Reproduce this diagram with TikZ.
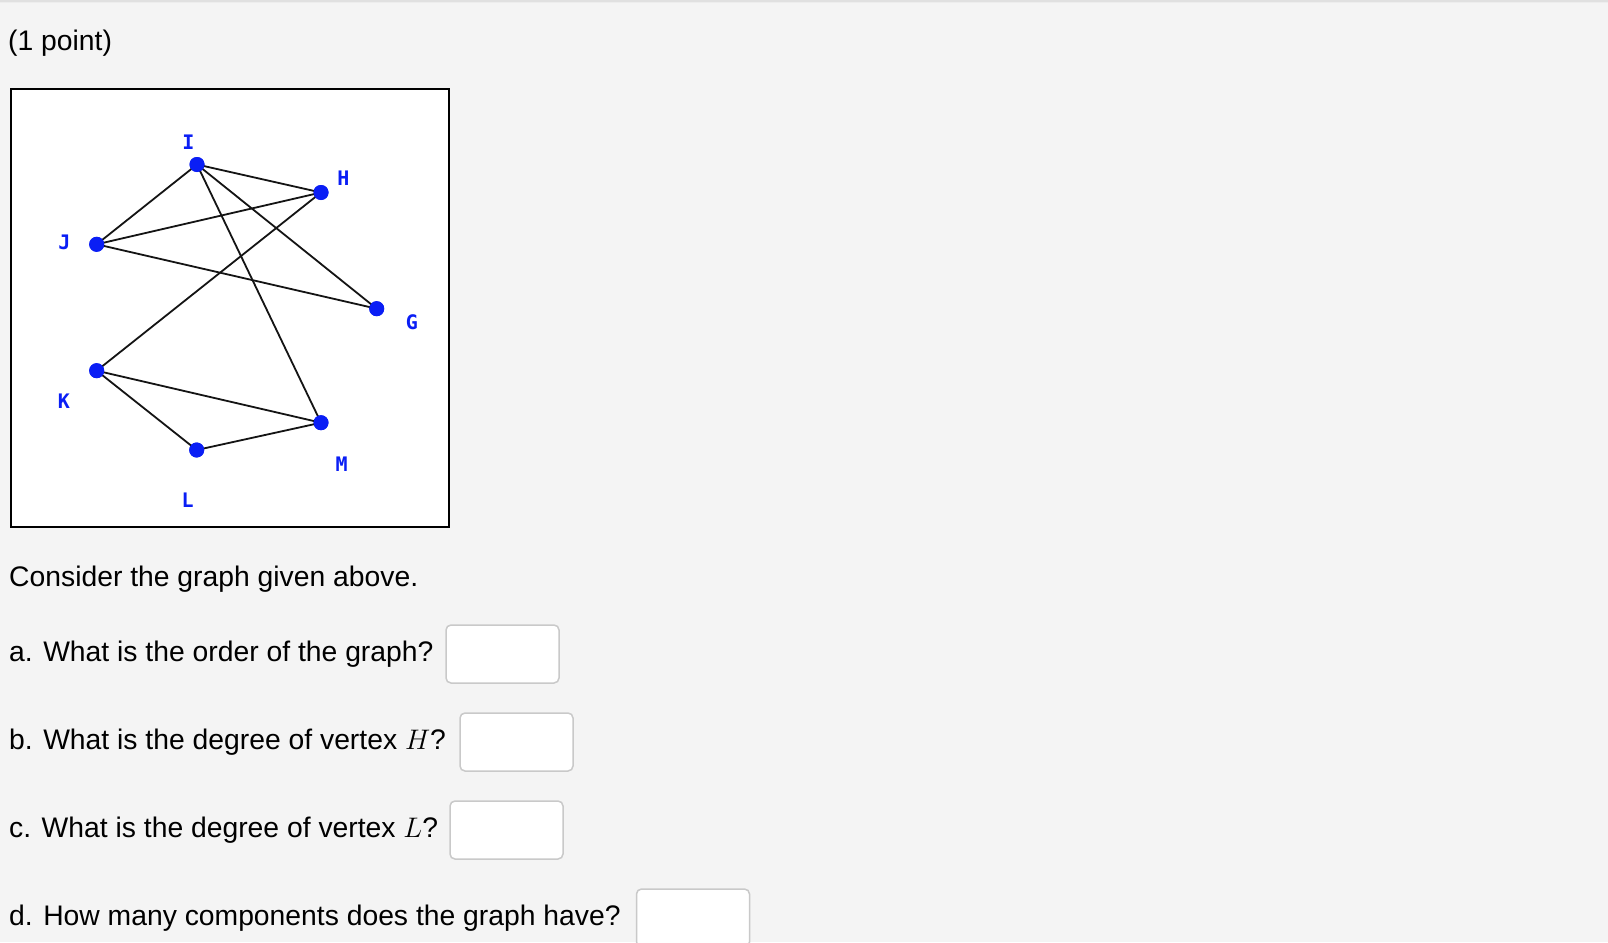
\RequirePackage{fix-cm}
\documentclass[tikz,border=0pt]{standalone}
\usepackage{fontspec}
\setmainfont{Liberation Sans}
\newfontfamily\lblfont{DejaVu Sans Mono}
\definecolor{pagebg}{HTML}{F4F4F4}
\definecolor{vblue}{HTML}{0A1EF5}
\definecolor{edgec}{HTML}{141414}
\definecolor{boxline}{HTML}{C9C9C9}
\tikzset{
  vtx/.style={circle,fill=vblue,inner sep=0pt,minimum size=15pt},
  lbl/.style={text=vblue,inner sep=0pt,font=\lblfont\bfseries\fontsize{20}{20}\selectfont},
  edge/.style={draw=edgec,line width=1.8pt},
  qtext/.style={anchor=base west,inner sep=0pt,font=\fontsize{28.3}{34}\selectfont},
  ansbox/.style={draw=boxline,fill=white,line width=1.5pt,rounded corners=5pt},
}
\begin{document}
\begin{tikzpicture}[x=1pt,y=-1pt]
\useasboundingbox (0,0) rectangle (1608,942);
\clip (0,0) rectangle (1608,942);
\fill[pagebg] (0,0) rectangle (1608,942);
\fill[black!12] (0,0) rectangle (1608,2);
\fill[black!7] (0,2) rectangle (1608,3.5);

% title
\node[qtext] (title) at (8,51) {(1 point)};

% graph frame
\draw[fill=white,draw=black,line width=2pt] (11,89.3) rectangle (449,526.5);

% vertices
\node[vtx] (I) at (197,164.5) {};
\node[vtx] (H) at (321,192.5) {};
\node[vtx] (J) at (96.7,244.3) {};
\node[vtx] (G) at (376.7,308.7) {};
\node[vtx] (K) at (96.7,370.7) {};
\node[vtx] (M) at (321,422.7) {};
\node[vtx] (L) at (196.7,450) {};

% edges
\draw[edge] (I.center) -- (H.center);
\draw[edge] (I.center) -- (J.center);
\draw[edge] (I.center) -- (G.center);
\draw[edge] (I.center) -- (M.center);
\draw[edge] (J.center) -- (H.center);
\draw[edge] (J.center) -- (G.center);
\draw[edge] (H.center) -- (K.center);
\draw[edge] (K.center) -- (M.center);
\draw[edge] (K.center) -- (L.center);
\draw[edge] (L.center) -- (M.center);

% dots drawn over the edge ends
\foreach \v in {I,H,J,G,K,M,L}{\fill[vblue] (\v) circle (7.5pt);}

% labels
\node[lbl] (lI) at (188.5,142) {I};
\node[lbl] (lH) at (343.5,178.5) {H};
\node[lbl] (lJ) at (64.5,242.5) {J};
\node[lbl] (lG) at (412,322.5) {G};
\node[lbl] (lK) at (64,400.8) {K};
\node[lbl] (lM) at (341.7,464) {M};
\node[lbl] (lL) at (187.7,500.5) {L};

% text
\node[qtext] (consider) at (9,586) {Consider the graph given above.};
\node[qtext] (qa) at (9,661.5) {a. What is the order of the graph?};
\node[qtext] (qb) at (9,749.5) {b. What is the degree of vertex $H$?};
\node[qtext] (qc) at (9,837.5) {c. What is the degree of vertex $L$?};
\node[qtext] (qd) at (9,925.5) {d. How many components does the graph have?};

% answer boxes
\draw[ansbox] (446,625) rectangle (559,683);
\draw[ansbox] (460,713) rectangle (573,771);
\draw[ansbox] (450,801) rectangle (563,859);
\draw[ansbox] (636.5,889) rectangle (749.5,947);
\end{tikzpicture}
\end{document}
